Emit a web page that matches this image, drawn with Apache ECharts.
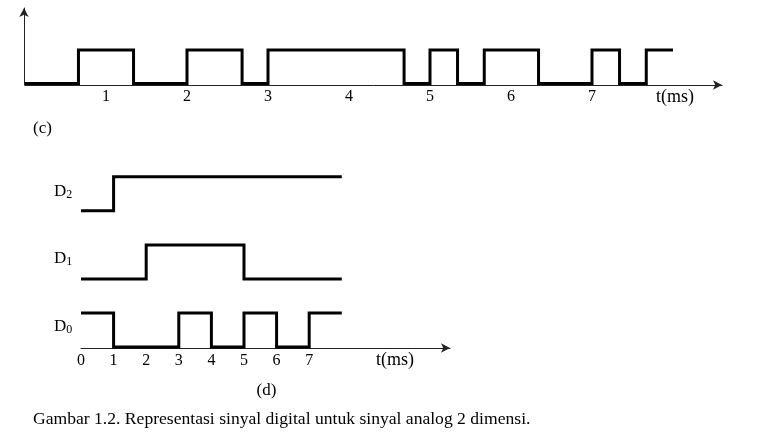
<!DOCTYPE html>
<html>
    <head>
        <title>Gambar 1.2</title>
        <meta charset="UTF-8">
        <style>
            html, body { margin: 0; padding: 0; background: #fff; }
            #container { width: 757px; height: 433px; }
        </style>
    </head>
    <body>
        <div id="container"></div>
        <script type="text/javascript" src="https://cdn.jsdelivr.net/npm/echarts@6/dist/echarts.min.js"></script>
        <script type="text/javascript">
            // panel (c): time in ms, level 0/1
            var cSignal = [[0, 0], [0.66, 1], [1.34, 0], [2, 1], [2.68, 0], [3, 1], [4.68, 0], [5, 1], [5.34, 0], [5.67, 1], [6.34, 0], [7, 1], [7.34, 0], [7.67, 1], [8, 1]];
            var cTickLabels = ['', '1', '2', '3', '4', '5', '6', '7'];

            // panel (d): each signal sits on its own pair of levels
            var d2Signal = [[0, 4], [1, 5], [8, 5]];
            var d1Signal = [[0, 2], [2, 3], [5, 2], [8, 2]];
            var d0Signal = [[0, 1], [1, 0], [3, 1], [4, 0], [5, 1], [6, 0], [7, 1], [8, 1]];
            var dTickLabels = ['0', '1', '2', '3', '4', '5', '6', '7'];

            var timeUnit = 't(ms)';
            var caption = 'Gambar 1.2. Representasi sinyal digital untuk sinyal analog 2 dimensi.';

            var serif = '"Liberation Serif", serif';

            function signal(data, axisIndex) {
                return {
                    type: 'line',
                    step: 'end',
                    data: data,
                    xAxisIndex: axisIndex,
                    yAxisIndex: axisIndex,
                    showSymbol: false,
                    clip: false,
                    silent: true,
                    lineStyle: {color: '#000', width: 3, join: 'miter', cap: 'butt'}
                };
            }

            function timeAxis(gridIndex, max, labels, margin) {
                return {
                    type: 'value',
                    gridIndex: gridIndex,
                    min: 0,
                    max: max,
                    interval: 1,
                    splitLine: {show: false},
                    axisTick: {show: false},
                    axisLine: {
                        show: true,
                        onZero: false,
                        symbol: ['none', 'arrow'],
                        symbolSize: [7, 9],
                        lineStyle: {color: '#222', width: 1}
                    },
                    axisLabel: {
                        show: true,
                        margin: margin,
                        color: '#000',
                        fontFamily: serif,
                        fontSize: 16,
                        showMinLabel: true,
                        showMaxLabel: false,
                        hideOverlap: false,
                        formatter: function (value) {
                            return labels[value] || '';
                        }
                    }
                };
            }

            function text(x, y, content, align, size) {
                return {
                    type: 'text',
                    x: x,
                    y: y,
                    style: {
                        text: content,
                        fill: '#000',
                        font: (size || 17) + 'px ' + serif,
                        align: align || 'left',
                        verticalAlign: 'middle'
                    }
                };
            }

            function subLabel(x, y, main, sub) {
                return {
                    type: 'text',
                    x: x,
                    y: y,
                    style: {
                        text: '{m|' + main + '}{s|' + sub + '}',
                        fill: '#000',
                        verticalAlign: 'middle',
                        rich: {
                            m: {font: '17px ' + serif, fill: '#000'},
                            s: {font: '12px ' + serif, fill: '#000', verticalAlign: 'bottom', padding: [5, 0, 0, 0]}
                        }
                    }
                };
            }

            var myChart = echarts.init(document.getElementById('container'));
            var option = {
                animation: false,
                backgroundColor: '#fff',
                grid: [
                    {left: 25, top: 8, width: 697, height: 77},
                    {left: 81, top: 170, width: 369, height: 178}
                ],
                xAxis: [
                    timeAxis(0, 8.605, cTickLabels, 4),
                    timeAxis(1, 11.32, dTickLabels, 5)
                ],
                yAxis: [
                    {
                        type: 'value',
                        gridIndex: 0,
                        min: -0.045,
                        max: 2.254,
                        offset: 1,
                        splitLine: {show: false},
                        axisTick: {show: false},
                        axisLabel: {show: false},
                        axisLine: {
                            show: true,
                            onZero: false,
                            symbol: ['none', 'arrow'],
                            symbolSize: [7, 9],
                            lineStyle: {color: '#222', width: 1}
                        }
                    },
                    {
                        type: 'value',
                        gridIndex: 1,
                        min: -0.03,
                        max: 5.2,
                        show: false
                    }
                ],
                series: [
                    signal(cSignal, 0),
                    signal(d2Signal, 1),
                    signal(d1Signal, 1),
                    signal(d0Signal, 1)
                ],
                graphic: [
                    text(675, 97, timeUnit, 'center', 18),
                    text(33, 129, '(c)'),
                    subLabel(54, 192, 'D', '2'),
                    subLabel(54, 259, 'D', '1'),
                    subLabel(54, 327, 'D', '0'),
                    text(395, 360, timeUnit, 'center', 18),
                    text(266.5, 391, '(d)', 'center'),
                    text(33, 419, caption, 'left', 17.6)
                ]
            };
            myChart.setOption(option);
        </script>
    </body>
</html>
